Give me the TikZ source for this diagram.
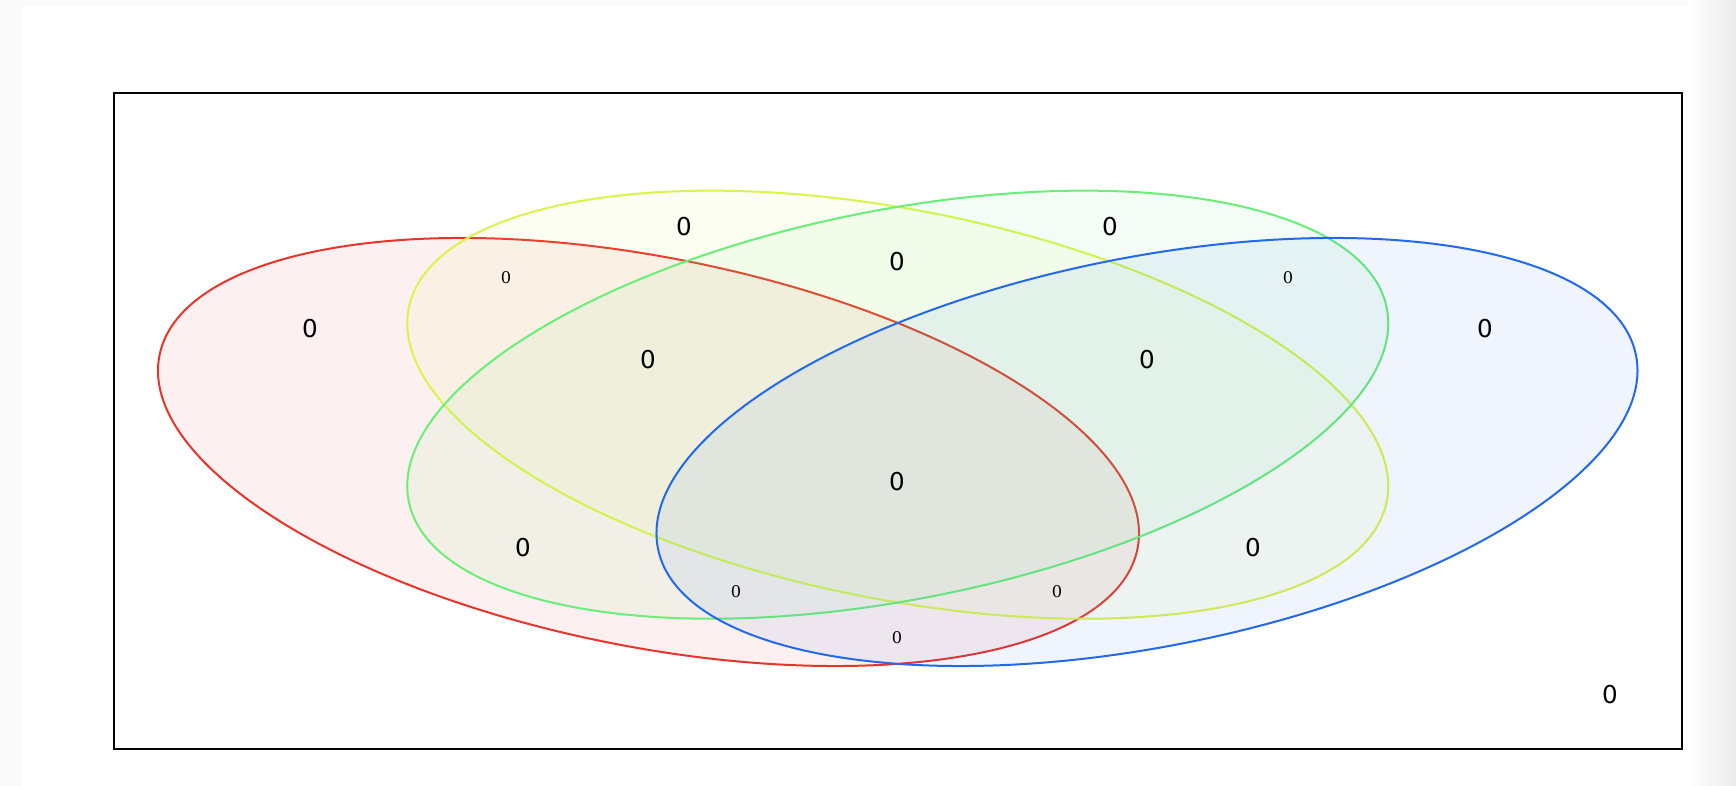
\documentclass[tikz,border=0pt]{standalone}
\usepackage{fontspec}
\setmainfont{DejaVu Sans}
\newfontfamily\serifnum{DejaVu Serif}
\definecolor{cRed}{RGB}{232,53,43}
\definecolor{cYel}{RGB}{215,245,75}
\definecolor{cGrn}{RGB}{105,238,120}
\definecolor{cBlu}{RGB}{35,105,235}
\definecolor{bgGray}{RGB}{250,250,250}
\tikzset{
  setshape/.style={line width=1pt, fill opacity=0.07},
  biglab/.style={inner sep=0pt, font=\fontsize{12.3}{14}\selectfont},
  smalllab/.style={inner sep=0pt, font=\serifnum\fontsize{8.1}{9}\selectfont},
}
\begin{document}
\begin{tikzpicture}[x=0.5pt,y=0.5pt]
\useasboundingbox (0,0) rectangle (1736,786);
\fill[bgGray] (0,0) rectangle (1736,786);
\fill[white] (22,0) rectangle (1688,781);
\shade[left color=white, right color=black!8] (1688,0) rectangle (1736,786);
% frame
\node[draw=black, line width=1pt, inner sep=0pt, minimum width=784pt, minimum height=328pt] (frame) at (898,365) {};
% centres
\coordinate (cR) at (648.5,334);
\coordinate (cY) at (897.75,381.3);
\coordinate (cG) at (897.75,381.3);
\coordinate (cB) at (1147,334);
% ellipses
\draw[setshape, draw=cRed, fill=cRed, rotate around={-11.16:(cR)}] (cR) ellipse [x radius=249.25pt, y radius=97.35pt];
\draw[setshape, draw=cYel, fill=cYel, rotate around={-11.16:(cY)}] (cY) ellipse [x radius=249.25pt, y radius=97.35pt];
\draw[setshape, draw=cGrn, fill=cGrn, rotate around={11.16:(cG)}] (cG) ellipse [x radius=249.25pt, y radius=97.35pt];
\draw[setshape, draw=cBlu, fill=cBlu, rotate around={11.16:(cB)}] (cB) ellipse [x radius=249.25pt, y radius=97.35pt];
% labels
\node[biglab] (l1000) at (310,457) {0};
\node[biglab] (l0100) at (684,559) {0};
\node[biglab] (l0010) at (1110,559) {0};
\node[biglab] (l0001) at (1485,457) {0};
\node[smalllab] (l1100) at (506,508) {0};
\node[smalllab] (l0011) at (1288,508) {0};
\node[biglab] (l0110) at (897,524) {0};
\node[biglab] (l1110) at (648,426) {0};
\node[biglab] (l0111) at (1147,426) {0};
\node[biglab] (l1111) at (897,304) {0};
\node[biglab] (l1010) at (523,238) {0};
\node[biglab] (l0101) at (1253,238) {0};
\node[smalllab] (l1011) at (736,194) {0};
\node[smalllab] (l1101) at (1057,194) {0};
\node[smalllab] (l1001) at (897,148) {0};
\node[biglab] (lout) at (1610,91) {0};
\end{tikzpicture}
\end{document}
